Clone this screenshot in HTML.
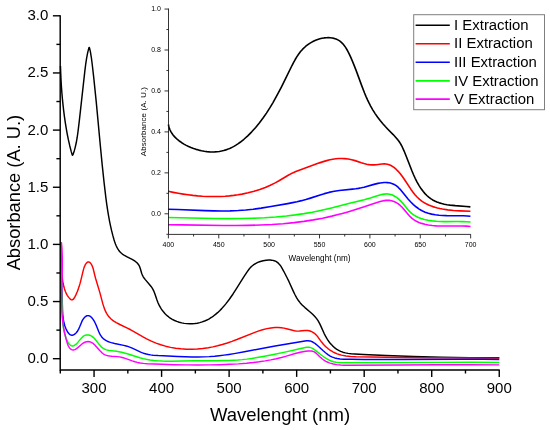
<!DOCTYPE html>
<html lang="en">
<head>
<meta charset="utf-8">
<title>Absorbance spectra</title>
<style>
html,body{margin:0;padding:0;background:#fff;}
body{width:550px;height:430px;overflow:hidden;font-family:"Liberation Sans",Arial,sans-serif;}
svg{display:block;}
</style>
</head>
<body>
<svg width="550" height="430" viewBox="0 0 550 430">
<rect width="550" height="430" fill="#fff"/>
<g fill="none" stroke-width="1.45" stroke-linejoin="round" stroke-linecap="butt">
<path d="M60.47,66.00 L60.69,72.61 L60.99,79.22 L61.36,85.68 L61.81,91.99 L62.35,98.28 L62.96,104.42 L63.64,110.39 L64.40,116.36 L65.30,122.60 L66.28,128.68 L67.29,134.31 L68.36,139.63 L69.73,145.70 L71.25,151.64 L72.10,154.54 L72.37,155.08 L72.51,155.17 L72.61,155.16 L72.76,155.02 L72.96,154.66 L73.47,153.31 L74.31,150.66 L75.09,147.84 L76.24,142.78 L77.22,137.24 L78.07,131.09 L79.36,120.33 L84.75,71.92 L85.72,64.02 L86.66,57.88 L87.69,52.63 L88.30,50.07 L88.90,47.88 L89.17,47.38 L89.28,47.41 L89.39,47.59 L89.79,49.04 L90.37,51.68 L91.31,57.28 L92.24,64.50 L93.74,77.57 L96.27,102.18 L100.50,147.38 L102.23,165.07 L104.15,183.18 L105.92,198.11 L106.76,204.37 L107.62,210.16 L108.53,215.65 L109.48,220.82 L110.51,225.84 L111.61,230.69 L112.80,235.38 L114.02,239.76 L114.75,242.06 L115.46,244.03 L116.20,245.80 L116.96,247.38 L117.81,248.89 L118.68,250.21 L119.65,251.46 L120.61,252.52 L122.36,254.06 L124.47,255.48 L126.64,256.68 L132.14,259.45 L134.65,260.95 L135.74,261.73 L136.76,262.59 L137.67,263.52 L138.40,264.43 L139.10,265.54 L139.72,266.91 L140.28,268.52 L141.73,273.53 L142.36,275.07 L143.11,276.52 L144.06,278.00 L145.30,279.65 L149.63,284.67 L151.05,286.43 L152.24,288.14 L153.19,289.82 L153.95,291.43 L154.67,293.24 L156.89,299.84 L157.80,302.26 L158.99,304.89 L160.36,307.42 L161.41,309.08 L162.45,310.56 L163.66,312.09 L164.85,313.44 L166.11,314.71 L167.43,315.92 L168.82,317.04 L170.28,318.07 L172.31,319.32 L174.58,320.48 L176.80,321.40 L179.24,322.22 L181.73,322.87 L184.27,323.35 L186.85,323.65 L189.59,323.79 L192.18,323.75 L194.76,323.54 L197.30,323.17 L199.79,322.62 L202.22,321.92 L204.58,321.05 L206.87,320.03 L209.21,318.79 L211.34,317.48 L213.42,316.05 L215.54,314.41 L217.59,312.66 L219.68,310.70 L221.70,308.63 L223.75,306.36 L225.82,303.89 L229.37,299.25 L233.03,293.97 L236.28,288.92 L243.48,277.37 L247.12,271.84 L249.38,268.77 L250.36,267.62 L251.42,266.56 L253.37,264.94 L255.49,263.57 L257.77,262.43 L260.31,261.48 L263.11,260.73 L266.14,260.23 L268.90,260.04 L270.27,260.07 L271.46,260.16 L272.91,260.40 L274.17,260.73 L275.37,261.19 L276.37,261.71 L277.32,262.34 L278.32,263.17 L279.24,264.13 L280.11,265.18 L281.00,266.45 L281.84,267.79 L283.75,271.29 L286.95,277.50 L288.89,281.43 L293.25,291.10 L294.75,294.26 L296.55,297.60 L298.41,300.52 L300.24,302.90 L302.39,305.22 L304.95,307.59 L310.40,312.22 L312.64,314.23 L314.83,316.45 L316.62,318.60 L318.17,320.92 L319.68,323.64 L320.97,326.35 L324.07,333.31 L325.80,336.73 L326.80,338.46 L327.88,340.14 L329.03,341.76 L330.16,343.19 L331.35,344.56 L332.60,345.85 L333.91,347.07 L335.17,348.10 L336.47,349.06 L337.81,349.92 L339.20,350.70 L340.64,351.38 L342.81,352.19 L345.34,352.87 L348.11,353.37 L351.24,353.73 L354.88,353.99 L363.41,354.43 L385.97,355.44 L413.32,356.41 L441.17,357.13 L469.69,357.60 L499.33,357.83" stroke="#000000"/>
<path d="M61.30,241.99 L61.51,248.97 L61.47,262.74 L61.57,268.53 L61.91,274.60 L62.19,277.36 L62.54,280.02 L63.10,283.25 L63.77,286.31 L64.50,288.96 L65.31,291.29 L66.25,293.45 L67.28,295.34 L68.50,297.13 L69.77,298.63 L70.52,299.29 L71.20,299.70 L71.81,299.86 L72.39,299.79 L73.02,299.44 L73.61,298.86 L74.24,298.02 L74.88,296.92 L76.00,294.62 L77.22,291.81 L78.25,289.13 L79.19,286.35 L79.92,283.89 L80.68,281.07 L83.31,270.12 L83.91,268.10 L84.55,266.36 L85.08,265.19 L85.65,264.20 L86.28,263.31 L86.92,262.63 L87.53,262.19 L88.11,261.96 L88.69,261.94 L89.27,262.12 L89.78,262.44 L90.27,262.87 L91.24,264.10 L92.09,265.64 L92.85,267.62 L93.39,269.51 L94.61,274.61 L95.63,278.45 L99.79,292.35 L102.86,303.89 L104.22,308.11 L105.36,310.94 L106.57,313.34 L107.91,315.47 L109.40,317.32 L110.81,318.73 L112.42,320.08 L114.21,321.36 L116.28,322.64 L119.80,324.51 L127.37,328.09 L130.68,329.77 L134.32,331.80 L142.54,336.62 L146.64,338.84 L151.34,341.10 L156.05,343.07 L160.76,344.75 L165.56,346.17 L170.56,347.34 L175.66,348.22 L180.94,348.83 L186.26,349.17 L191.71,349.23 L197.25,349.01 L202.76,348.51 L208.30,347.74 L212.91,346.87 L217.53,345.81 L222.25,344.52 L227.28,342.95 L231.90,341.35 L236.87,339.50 L254.85,332.35 L258.88,330.92 L262.57,329.76 L266.93,328.65 L270.93,327.92 L272.89,327.68 L274.76,327.54 L276.64,327.47 L278.42,327.49 L281.24,327.70 L283.97,328.12 L286.43,328.68 L292.67,330.32 L294.48,330.70 L296.19,330.96 L297.91,331.10 L299.44,331.09 L304.61,330.54 L306.69,330.46 L307.83,330.55 L308.95,330.75 L310.05,331.04 L311.21,331.47 L312.51,332.09 L313.73,332.84 L314.86,333.70 L315.91,334.65 L316.81,335.62 L317.78,336.80 L321.59,342.07 L323.56,344.47 L324.90,345.87 L326.38,347.26 L327.93,348.56 L329.55,349.77 L331.40,350.98 L333.30,352.07 L335.27,353.02 L337.20,353.82 L339.25,354.51 L341.34,355.09 L343.65,355.58 L346.09,355.98 L350.48,356.43 L355.79,356.68 L402.70,357.58 L427.22,357.82 L477.70,357.99 L499.22,358.15" stroke="#ff0000"/>
<path d="M61.30,242.00 L61.09,247.95 L60.98,254.09 L60.98,260.62 L61.09,267.54 L61.33,275.98 L62.14,297.50 L62.52,310.13 L62.69,313.54 L62.94,316.47 L63.41,319.93 L64.04,323.06 L64.87,325.95 L65.88,328.59 L67.16,331.15 L67.79,332.20 L68.43,333.08 L69.05,333.79 L69.71,334.38 L70.40,334.83 L71.07,335.09 L71.69,335.19 L72.27,335.17 L72.94,335.02 L73.61,334.75 L74.29,334.37 L75.03,333.84 L75.75,333.20 L76.44,332.48 L77.61,330.94 L78.64,329.16 L79.60,327.07 L81.79,321.69 L82.54,320.17 L83.35,318.86 L84.51,317.43 L85.15,316.83 L85.74,316.38 L86.34,316.02 L86.96,315.77 L87.59,315.62 L88.14,315.60 L88.70,315.67 L89.32,315.87 L89.93,316.18 L90.53,316.59 L91.81,317.78 L93.09,319.39 L94.21,321.19 L95.29,323.28 L96.29,325.57 L98.82,331.74 L99.68,333.58 L100.49,335.06 L101.55,336.67 L102.69,338.04 L103.93,339.18 L105.39,340.20 L106.66,340.90 L108.00,341.50 L109.58,342.09 L111.30,342.62 L114.63,343.44 L123.71,345.34 L126.18,345.98 L128.45,346.68 L130.26,347.35 L132.24,348.18 L140.64,352.07 L142.55,352.83 L144.40,353.47 L146.36,354.02 L148.42,354.49 L150.69,354.88 L153.08,355.18 L158.26,355.58 L177.49,356.50 L185.24,356.82 L191.67,356.99 L197.91,357.02 L203.68,356.90 L209.06,356.64 L214.71,356.19 L219.23,355.72 L223.94,355.14 L228.92,354.44 L234.16,353.62 L244.44,351.80 L265.81,347.71 L275.10,346.02 L304.96,341.07 L306.73,340.84 L308.19,340.77 L309.75,340.91 L311.24,341.31 L312.82,342.01 L314.47,343.04 L315.85,344.08 L317.50,345.46 L323.23,350.74 L325.55,352.76 L327.93,354.60 L330.18,356.05 L332.37,357.13 L334.65,357.94 L337.20,358.53 L340.10,358.92 L343.91,359.16 L351.14,359.31 L364.55,359.49 L378.84,359.58 L402.59,359.57 L464.56,359.26 L482.84,359.30 L499.30,359.45" stroke="#0000ff"/>
<path d="M61.30,242.00 L61.05,248.13 L60.92,254.61 L60.90,261.43 L61.00,268.88 L61.27,279.33 L62.09,302.90 L62.43,316.81 L62.62,320.68 L62.89,324.00 L63.41,328.05 L64.12,331.71 L65.06,335.18 L66.22,338.44 L67.55,341.38 L68.20,342.54 L68.89,343.59 L69.58,344.43 L70.26,345.07 L70.97,345.55 L71.66,345.83 L72.59,345.94 L73.56,345.75 L74.64,345.26 L75.80,344.45 L76.74,343.61 L77.66,342.64 L80.73,338.88 L81.77,337.70 L82.83,336.68 L83.77,335.96 L84.90,335.36 L86.13,334.98 L87.38,334.85 L88.62,334.95 L89.69,335.22 L90.82,335.68 L91.90,336.32 L92.94,337.11 L93.99,338.09 L95.07,339.27 L99.32,344.61 L101.27,346.75 L102.31,347.68 L103.40,348.48 L104.56,349.12 L105.78,349.63 L107.22,350.05 L108.81,350.37 L116.44,351.26 L118.99,351.70 L121.70,352.29 L124.29,352.95 L127.21,353.79 L139.86,357.72 L143.13,358.59 L146.24,359.29 L150.00,359.96 L153.89,360.47 L157.99,360.85 L162.39,361.09 L166.54,361.20 L171.16,361.20 L194.00,360.67 L216.26,360.66 L223.76,360.59 L228.79,360.46 L233.46,360.26 L237.84,359.99 L242.05,359.63 L246.81,359.11 L251.76,358.44 L257.15,357.57 L263.08,356.50 L273.58,354.43 L286.02,351.85 L295.35,349.81 L305.30,347.51 L306.85,347.25 L308.17,347.16 L309.45,347.27 L310.67,347.58 L311.93,348.08 L313.31,348.84 L315.46,350.34 L320.95,354.71 L323.72,356.79 L326.41,358.58 L328.94,359.99 L331.32,361.04 L333.61,361.76 L336.15,362.29 L339.03,362.62 L341.78,362.77 L345.12,362.81 L439.56,362.36 L470.92,362.34 L499.31,362.45" stroke="#00ff00"/>
<path d="M61.29,241.99 L61.67,246.14 L61.97,250.43 L62.17,254.87 L62.29,259.46 L62.32,264.37 L62.27,269.79 L61.70,291.18 L61.60,300.37 L61.67,305.43 L61.84,310.24 L62.12,314.80 L62.50,319.11 L63.27,325.30 L64.32,331.38 L65.62,337.26 L66.42,340.32 L67.15,342.81 L67.66,344.30 L68.21,345.61 L68.76,346.66 L69.38,347.62 L70.09,348.45 L70.80,349.09 L71.55,349.57 L72.35,349.89 L73.16,350.01 L73.93,349.93 L74.84,349.63 L75.77,349.15 L77.51,347.87 L82.05,343.96 L83.21,343.14 L84.38,342.48 L85.56,342.00 L86.81,341.69 L88.06,341.58 L89.28,341.68 L90.34,341.93 L91.30,342.31 L92.23,342.83 L93.21,343.53 L94.17,344.36 L95.24,345.44 L99.69,350.56 L101.72,352.61 L102.83,353.52 L103.98,354.28 L105.19,354.88 L106.52,355.38 L108.07,355.78 L109.85,356.07 L111.76,356.26 L117.61,356.64 L119.37,356.87 L121.19,357.22 L123.16,357.72 L125.29,358.38 L132.27,360.87 L134.90,361.73 L137.46,362.42 L140.24,362.96 L143.41,363.38 L147.07,363.67 L161.98,364.31 L174.15,364.67 L185.95,364.88 L197.58,364.95 L208.93,364.88 L220.00,364.66 L229.67,364.32 L238.41,363.85 L246.57,363.21 L252.98,362.56 L259.18,361.77 L265.10,360.87 L270.81,359.84 L276.22,358.70 L281.44,357.45 L285.56,356.34 L295.21,353.57 L300.14,352.31 L303.01,351.71 L305.62,351.26 L308.06,350.96 L309.86,350.87 L311.26,350.95 L312.52,351.20 L313.66,351.61 L314.74,352.20 L315.71,352.89 L316.72,353.73 L320.53,357.41 L322.35,358.96 L323.48,359.79 L324.71,360.59 L325.96,361.30 L327.33,361.98 L328.72,362.58 L330.22,363.13 L333.29,364.00 L336.72,364.64 L340.51,365.04 L344.08,365.22 L348.54,365.28 L400.67,364.96 L436.08,364.81 L469.03,364.79 L499.31,364.89" stroke="#ff00ff"/>
</g>
<g stroke="#000" stroke-width="1.45" fill="none" stroke-linecap="square">
<path d="M60.2,15.9 V369.9 H499.0"/>
</g>
<g stroke="#000" stroke-width="1.4" fill="none">
<path d="M52.90,358.70 H60.20"/>
<path d="M56.40,330.12 H60.20"/>
<path d="M52.90,301.55 H60.20"/>
<path d="M56.40,272.98 H60.20"/>
<path d="M52.90,244.40 H60.20"/>
<path d="M56.40,215.82 H60.20"/>
<path d="M52.90,187.25 H60.20"/>
<path d="M56.40,158.67 H60.20"/>
<path d="M52.90,130.10 H60.20"/>
<path d="M56.40,101.52 H60.20"/>
<path d="M52.90,72.95 H60.20"/>
<path d="M56.40,44.38 H60.20"/>
<path d="M52.90,15.80 H60.20"/>
<path d="M60.30,369.90 V373.50"/>
<path d="M94.06,369.90 V376.90"/>
<path d="M127.83,369.90 V373.50"/>
<path d="M161.59,369.90 V376.90"/>
<path d="M195.36,369.90 V373.50"/>
<path d="M229.12,369.90 V376.90"/>
<path d="M262.89,369.90 V373.50"/>
<path d="M296.66,369.90 V376.90"/>
<path d="M330.42,369.90 V373.50"/>
<path d="M364.19,369.90 V376.90"/>
<path d="M397.95,369.90 V373.50"/>
<path d="M431.72,369.90 V376.90"/>
<path d="M465.48,369.90 V373.50"/>
<path d="M499.25,369.90 V376.90"/>
</g>
<g font-family="Liberation Sans, Arial, sans-serif" font-size="15" fill="#000">
<text x="48.4" y="363.20" text-anchor="end">0.0</text>
<text x="48.4" y="306.05" text-anchor="end">0.5</text>
<text x="48.4" y="248.90" text-anchor="end">1.0</text>
<text x="48.4" y="191.75" text-anchor="end">1.5</text>
<text x="48.4" y="134.60" text-anchor="end">2.0</text>
<text x="48.4" y="77.45" text-anchor="end">2.5</text>
<text x="48.4" y="20.30" text-anchor="end">3.0</text>
<text x="94.06" y="392.7" text-anchor="middle">300</text>
<text x="161.59" y="392.7" text-anchor="middle">400</text>
<text x="229.12" y="392.7" text-anchor="middle">500</text>
<text x="296.66" y="392.7" text-anchor="middle">600</text>
<text x="364.19" y="392.7" text-anchor="middle">700</text>
<text x="431.72" y="392.7" text-anchor="middle">800</text>
<text x="499.25" y="392.7" text-anchor="middle">900</text>
</g>
<text font-family="Liberation Sans, Arial, sans-serif" font-size="18.5" x="280" y="421.4" text-anchor="middle">Wavelenght (nm)</text>
<text font-family="Liberation Sans, Arial, sans-serif" font-size="18.3" transform="translate(19.6,192.6) rotate(-90)" text-anchor="middle">Absorbance (A. U.)</text>
<g fill="none" stroke-width="1.6" stroke-linejoin="round">
<path d="M168.40,124.48 L168.76,126.23 L169.29,128.07 L169.97,129.82 L170.87,131.63 L171.90,133.34 L173.07,134.96 L174.46,136.61 L175.98,138.17 L177.71,139.73 L179.67,141.27 L181.72,142.70 L183.96,144.10 L186.24,145.37 L188.58,146.53 L190.96,147.57 L193.54,148.55 L196.03,149.36 L198.72,150.10 L201.47,150.73 L204.26,151.24 L206.94,151.59 L209.63,151.83 L212.16,151.93 L214.69,151.89 L217.03,151.74 L219.35,151.46 L221.47,151.08 L223.71,150.55 L225.89,149.89 L228.04,149.12 L230.28,148.17 L232.47,147.10 L234.35,146.08 L236.32,144.89 L238.25,143.62 L240.14,142.27 L243.92,139.28 L247.75,135.82 L251.72,131.83 L255.68,127.43 L259.51,122.75 L263.22,117.79 L266.47,113.08 L269.65,108.12 L272.85,102.80 L276.14,96.98 L278.72,92.18 L281.51,86.77 L285.07,79.65 L291.99,65.52 L293.63,62.36 L295.19,59.53 L296.93,56.65 L298.72,54.00 L300.56,51.59 L302.46,49.41 L304.07,47.78 L305.79,46.24 L307.51,44.88 L309.33,43.62 L311.38,42.37 L313.38,41.32 L315.58,40.32 L317.69,39.51 L319.83,38.84 L321.98,38.30 L324.15,37.92 L326.30,37.69 L328.43,37.63 L330.38,37.73 L332.28,37.98 L334.13,38.40 L336.05,39.04 L337.88,39.88 L339.60,40.94 L341.11,42.12 L342.61,43.58 L344.01,45.23 L345.41,47.15 L346.87,49.49 L348.14,51.80 L349.39,54.34 L350.69,57.20 L352.40,61.19 L354.32,65.89 L356.19,70.65 L361.99,86.38 L364.55,92.97 L366.06,96.59 L367.53,99.87 L369.00,102.95 L370.50,105.84 L372.61,109.58 L374.96,113.34 L377.48,116.99 L380.17,120.54 L382.63,123.52 L385.33,126.54 L387.61,128.94 L393.18,134.58 L395.83,137.45 L398.36,140.52 L399.41,141.99 L400.30,143.36 L401.26,145.02 L402.15,146.73 L404.01,150.80 L406.11,155.94 L411.68,170.30 L413.43,174.48 L415.16,178.27 L417.08,182.09 L419.08,185.62 L421.17,188.82 L423.25,191.59 L424.99,193.62 L426.85,195.51 L428.72,197.15 L430.69,198.66 L432.67,199.93 L434.75,201.06 L436.96,202.04 L439.27,202.87 L441.68,203.57 L444.31,204.19 L447.01,204.69 L450.07,205.13 L455.27,205.67 L466.17,206.45 L470.37,206.85" stroke="#000000"/>
<path d="M168.28,191.32 L173.23,192.36 L178.23,193.30 L183.18,194.12 L188.07,194.82 L192.87,195.40 L197.71,195.87 L202.46,196.22 L207.10,196.45 L211.75,196.56 L216.30,196.56 L220.73,196.44 L225.14,196.21 L229.44,195.86 L233.71,195.39 L237.97,194.80 L242.09,194.10 L248.10,192.84 L254.03,191.29 L259.77,189.49 L265.30,187.42 L270.33,185.24 L275.15,182.85 L279.01,180.71 L288.22,175.23 L290.82,173.83 L293.27,172.65 L295.76,171.58 L298.59,170.48 L306.62,167.60 L319.44,162.87 L323.24,161.62 L326.63,160.62 L329.83,159.83 L332.84,159.23 L335.87,158.80 L338.80,158.55 L341.73,158.47 L344.55,158.58 L348.21,158.98 L351.72,159.68 L355.08,160.63 L361.34,162.70 L363.97,163.50 L366.63,164.18 L369.12,164.64 L371.66,164.88 L374.02,164.88 L376.32,164.69 L381.82,164.01 L384.58,163.89 L385.96,163.98 L387.19,164.17 L388.48,164.50 L389.83,164.99 L390.85,165.46 L391.93,166.05 L393.99,167.44 L396.08,169.22 L398.20,171.35 L400.32,173.84 L402.53,176.76 L404.78,180.02 L410.99,189.43 L413.03,192.26 L414.96,194.69 L417.30,197.27 L419.58,199.40 L422.12,201.35 L424.81,203.06 L426.69,204.08 L428.63,205.00 L430.63,205.83 L432.77,206.62 L435.07,207.34 L437.42,207.98 L439.91,208.56 L442.44,209.06 L447.67,209.86 L453.61,210.47 L459.93,210.87 L470.41,211.32" stroke="#ff0000"/>
<path d="M168.21,209.19 L177.58,209.51 L205.01,210.64 L213.72,210.87 L221.57,210.95 L230.15,210.85 L238.19,210.54 L245.78,210.00 L253.14,209.23 L261.10,208.13 L270.92,206.53 L287.69,203.60 L292.67,202.64 L297.01,201.72 L301.54,200.65 L305.85,199.50 L310.45,198.11 L320.11,194.96 L324.38,193.64 L328.87,192.40 L332.97,191.46 L335.95,190.93 L339.26,190.47 L352.59,189.15 L355.74,188.77 L358.46,188.35 L361.30,187.82 L364.03,187.18 L373.98,184.37 L377.94,183.40 L380.12,182.98 L382.18,182.70 L384.04,182.56 L385.89,182.53 L387.41,182.62 L388.92,182.80 L390.39,183.09 L391.73,183.46 L393.03,183.93 L394.28,184.52 L395.39,185.16 L396.54,185.96 L398.33,187.47 L400.16,189.34 L401.99,191.46 L406.04,196.57 L408.23,199.19 L410.81,202.00 L413.42,204.56 L416.32,207.02 L419.19,209.08 L420.68,210.00 L422.12,210.79 L423.59,211.51 L425.19,212.20 L428.29,213.27 L431.60,214.13 L435.22,214.78 L439.14,215.25 L442.69,215.50 L446.59,215.64 L459.26,215.72 L463.36,215.80 L467.15,216.00 L470.42,216.31" stroke="#0000ff"/>
<path d="M168.20,217.54 L214.79,218.49 L228.25,218.60 L240.33,218.53 L252.82,218.25 L264.55,217.74 L275.74,216.98 L286.38,215.98 L295.32,214.90 L303.92,213.64 L312.30,212.17 L320.44,210.51 L330.39,208.16 L348.68,203.50 L364.16,199.66 L370.36,197.94 L378.12,195.50 L380.91,194.71 L382.55,194.34 L384.08,194.09 L385.48,193.95 L386.77,193.91 L388.04,193.99 L389.29,194.17 L390.52,194.46 L391.73,194.84 L392.91,195.32 L394.15,195.94 L395.37,196.65 L396.55,197.44 L398.75,199.19 L400.96,201.34 L402.98,203.61 L408.26,210.00 L409.94,211.80 L411.56,213.30 L413.61,214.87 L415.89,216.27 L418.39,217.48 L421.09,218.52 L424.39,219.48 L428.08,220.26 L432.13,220.86 L436.42,221.27 L440.21,221.48 L444.43,221.58 L457.85,221.55 L462.47,221.59 L466.73,221.75 L470.55,222.04" stroke="#00ff00"/>
<path d="M168.24,224.76 L182.46,224.88 L223.45,225.45 L236.19,225.48 L247.56,225.37 L260.17,225.04 L272.02,224.48 L283.20,223.69 L293.92,222.65 L303.86,221.40 L313.43,219.91 L322.64,218.17 L331.89,216.12 L337.06,214.84 L342.42,213.43 L347.77,211.93 L353.33,210.30 L363.43,207.11 L377.02,202.51 L380.16,201.53 L382.28,200.98 L384.28,200.59 L386.07,200.37 L387.84,200.30 L389.20,200.37 L390.46,200.53 L391.70,200.79 L393.02,201.17 L394.22,201.61 L395.49,202.19 L396.73,202.87 L397.93,203.63 L399.98,205.21 L401.89,207.03 L403.84,209.20 L408.86,215.23 L410.47,216.94 L412.03,218.35 L414.11,219.89 L416.41,221.25 L418.93,222.41 L421.65,223.39 L424.87,224.26 L428.36,224.95 L432.20,225.47 L436.37,225.83 L439.94,225.99 L443.94,226.06 L457.23,225.94 L461.95,225.97 L466.53,226.13 L470.56,226.44" stroke="#ff00ff"/>
</g>
<g stroke="#111" stroke-width="0.85" fill="none" stroke-linecap="square">
<path d="M168.5,9.0 V234.4 H470.3"/>
</g>
<g stroke="#111" stroke-width="0.85" fill="none">
<path d="M166.40,234.28 H168.50"/>
<path d="M164.50,213.80 H168.50"/>
<path d="M166.40,193.33 H168.50"/>
<path d="M164.50,172.85 H168.50"/>
<path d="M166.40,152.38 H168.50"/>
<path d="M164.50,131.90 H168.50"/>
<path d="M166.40,111.43 H168.50"/>
<path d="M164.50,90.95 H168.50"/>
<path d="M166.40,70.47 H168.50"/>
<path d="M164.50,50.00 H168.50"/>
<path d="M166.40,29.53 H168.50"/>
<path d="M164.50,9.05 H168.50"/>
<path d="M168.40,234.40 V238.40"/>
<path d="M193.59,234.40 V236.50"/>
<path d="M218.78,234.40 V238.40"/>
<path d="M243.96,234.40 V236.50"/>
<path d="M269.15,234.40 V238.40"/>
<path d="M294.34,234.40 V236.50"/>
<path d="M319.52,234.40 V238.40"/>
<path d="M344.71,234.40 V236.50"/>
<path d="M369.90,234.40 V238.40"/>
<path d="M395.09,234.40 V236.50"/>
<path d="M420.28,234.40 V238.40"/>
<path d="M445.46,234.40 V236.50"/>
<path d="M470.65,234.40 V238.40"/>
</g>
<g font-family="Liberation Sans, Arial, sans-serif" font-size="7.0" fill="#000">
<text x="160.9" y="216.20" text-anchor="end">0.0</text>
<text x="160.9" y="175.25" text-anchor="end">0.2</text>
<text x="160.9" y="134.30" text-anchor="end">0.4</text>
<text x="160.9" y="93.35" text-anchor="end">0.6</text>
<text x="160.9" y="52.40" text-anchor="end">0.8</text>
<text x="160.9" y="11.45" text-anchor="end">1.0</text>
<text x="168.40" y="247.3" text-anchor="middle">400</text>
<text x="218.78" y="247.3" text-anchor="middle">450</text>
<text x="269.15" y="247.3" text-anchor="middle">500</text>
<text x="319.52" y="247.3" text-anchor="middle">550</text>
<text x="369.90" y="247.3" text-anchor="middle">600</text>
<text x="420.28" y="247.3" text-anchor="middle">650</text>
<text x="470.65" y="247.3" text-anchor="middle">700</text>
</g>
<text font-family="Liberation Sans, Arial, sans-serif" font-size="8.2" x="319.6" y="260.5" text-anchor="middle">Wavelenght (nm)</text>
<text font-family="Liberation Sans, Arial, sans-serif" font-size="7.9" letter-spacing="0.12" transform="translate(146.3,121.6) rotate(-90)" text-anchor="middle">Absorbance (A. U.)</text>
<rect x="413.7" y="14.7" width="130.8" height="95" fill="#fff" stroke="#7f7f7f" stroke-width="1"/>
<g stroke-width="1.6" fill="none">
<path d="M415.6,25.3 H449.8" stroke="#000000"/>
<path d="M415.6,43.8 H449.8" stroke="#ff0000"/>
<path d="M415.6,62.2 H449.8" stroke="#0000ff"/>
<path d="M415.6,80.9 H449.8" stroke="#00ff00"/>
<path d="M415.6,99.1 H449.8" stroke="#ff00ff"/>
</g>
<g font-family="Liberation Sans, Arial, sans-serif" font-size="14.9" fill="#000">
<text x="454.1" y="29.90">I Extraction</text>
<text x="454.1" y="48.40">II Extraction</text>
<text x="454.1" y="66.80">III Extraction</text>
<text x="454.1" y="85.50">IV Extraction</text>
<text x="454.1" y="103.70">V Extraction</text>
</g>
</svg>
</body>
</html>
